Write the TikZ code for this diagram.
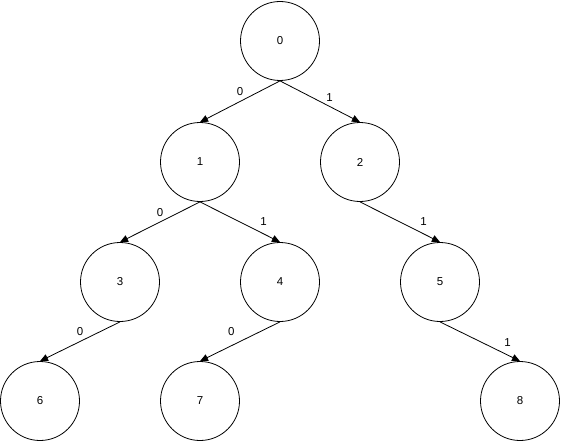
\documentclass[tikz,border=0pt]{standalone}
\usepackage{fontspec}
\setmainfont{Liberation Sans}
\usetikzlibrary{arrows.meta}

\tikzset{
  vertex/.style={draw,circle,minimum size=79pt,inner sep=0pt,line width=0.8pt,font=\fontsize{11.5}{13}\selectfont},
  edge/.style={line width=0.8pt,-{Triangle[length=8pt,width=7pt]}},
  bit/.style={font=\fontsize{11.5}{13}\selectfont,inner sep=2pt}
}

\begin{document}
\begin{tikzpicture}[x=1pt,y=-1pt]
\useasboundingbox (0,0) rectangle (561,441);

% Nodes of the tree
\node[vertex] (n0) at (280,41){0};
\node[vertex] (n1) at (200,162){1};
\node[vertex] (n2) at (360,162){2};
\node[vertex] (n3) at (120,282){3};
\node[vertex] (n4) at (280,282){4};
\node[vertex] (n5) at (440,282){5};
\node[vertex] (n6) at (40,401){6};
\node[vertex] (n7) at (200,401){7};
\node[vertex] (n8) at (520,401){8};

% Edges with their bits
\draw[edge] (n0.south)--(n1.north) node[bit,pos=0.5,above=3pt]{0};
\draw[edge] (n0.south)--(n2.north) node[bit,pos=0.55,above right=0pt]{1};
\draw[edge] (n1.south)--(n3.north) node[bit,pos=0.5,above=3pt]{0};
\draw[edge] (n1.south)--(n4.north) node[bit,pos=0.7,above right=2pt]{1};
\draw[edge] (n2.south)--(n5.north) node[bit,pos=0.7,above right=2pt]{1};
\draw[edge] (n3.south)--(n6.north) node[bit,pos=0.5,above=3pt]{0};
\draw[edge] (n4.south)--(n7.north) node[bit,pos=0.5,above left=3pt]{0};
\draw[edge] (n5.south)--(n8.north) node[bit,pos=0.75,above right=2pt]{1};

\end{tikzpicture}
\end{document}
